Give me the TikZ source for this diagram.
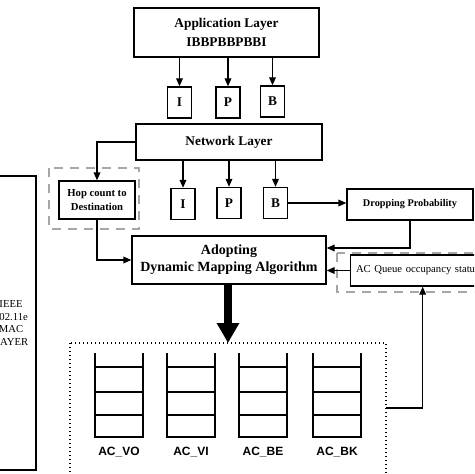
\documentclass[tikz,border=0pt]{standalone}
\usepackage{fontspec}
\setmainfont{Liberation Serif}
\newfontfamily\acfont{Liberation Sans}
\usetikzlibrary{arrows.meta,positioning}

\begin{document}
\begin{tikzpicture}[x=0.75pt,y=-0.75pt,
		box/.style={draw,line width=1pt,align=center,inner sep=1pt,font=\bfseries\fontsize{10}{14}\selectfont},
		frame/.style={box,minimum width=18pt,minimum height=23.25pt},
		dashbox/.style={draw=gray!70,line width=0.9pt,dash pattern=on 7pt off 5pt},
		arr/.style={line width=1pt,-{Triangle[width=5pt,length=6pt]}},
		bigarr/.style={line width=6pt,-{Triangle[width=16pt,length=15pt]}}]
	\clip (0,0) rectangle (474,474);
	% Layers
	\node[box,minimum width=138.75pt,minimum height=36.75pt] (appl) at (226.5,32.5) {Application Layer\\IBBPBBPBBI};
	\node[box,minimum width=139.5pt,minimum height=27pt] (netl) at (229,142) {Network Layer};
	% Frames
	\node[frame] (iup) at (179.5,102.5) {I};
	\node[frame] (pup) at (228,102.5) {P};
	\node[frame] (bup) at (272.5,101.5) {B};
	\node[frame] (ilo) at (183,204) {I};
	\node[frame] (plo) at (229,203) {P};
	\node[frame] (blo) at (275.5,203) {B};
	\foreach \f in {iup,pup,bup}
		\draw[arr] (appl.south -| \f) -- (\f);
	\foreach \f in {ilo,plo,blo}
		\draw[arr] (netl.south -| \f) -- (\f);
	% Inputs of the algorithm
	\node[box,minimum width=57pt,minimum height=28.5pt,font=\bfseries\fontsize{8}{10}\selectfont] (hop) at (97,200) {Hop count to\\Destination};
	\draw[dashbox] (49,168) rectangle (139,229);
	\node[box,minimum width=94.5pt,minimum height=23.25pt,font=\bfseries\fontsize{7.7}{9}\selectfont] (drop) at (410,204.5) {Dropping Probability};
	\node[box,anchor=west,minimum height=23.25pt,text width=100pt,inner xsep=4pt,align=left,font=\fontsize{8}{9}\selectfont] (acq) at (350,270.5) {AC Queue occupancy status};
	\draw[dashbox] (337,253) rectangle (510,292);
	\node[box,minimum width=145.5pt,minimum height=36pt,font=\bfseries\fontsize{10.5}{13}\selectfont] (adopt) at (229,260) {Adopting\\Dynamic Mapping Algorithm};
	\draw[arr] (netl.west) -| (hop);
	\draw[arr] (hop) |- (adopt);
	\draw[arr] (blo.east) -- (blo.east -| drop.west);
	\draw[arr] (drop.south) |- ([yshift=9pt]adopt.east);
	\draw[arr] (acq.west) -- (acq.west -| adopt.east);
	% MAC layer
	\draw[line width=1pt] (-40,176) rectangle (36,470);
	\node[align=center,font=\fontsize{8}{9.4}\selectfont] (mac) at (11,323) {IEEE\\802.11e\\MAC\\LAYER};
	% Queues
	\draw[dotted,line width=1pt] (70,343) rectangle (386,500);
	\coordinate (qtop) at (228,343);
	\coordinate (qret) at (386,408);
	\draw[bigarr] (adopt.south -| qtop) -- (qtop);
	\draw[arr] (qret) -| (acq.south);
	\foreach \x/\name in {95/AC\_VO,167/AC\_VI,239/AC\_BE,313/AC\_BK}{
		\draw[line width=1pt] (\x,353) -- (\x,437) -- (\x+48,437) -- (\x+48,353);
		\foreach \y in {367,392,415}
			\draw[line width=1pt] (\x,\y) -- (\x+48,\y);
		\node[font=\acfont\bfseries\fontsize{9}{10}\selectfont] at (\x+24,452) {\name};
	}
\end{tikzpicture}
\end{document}
